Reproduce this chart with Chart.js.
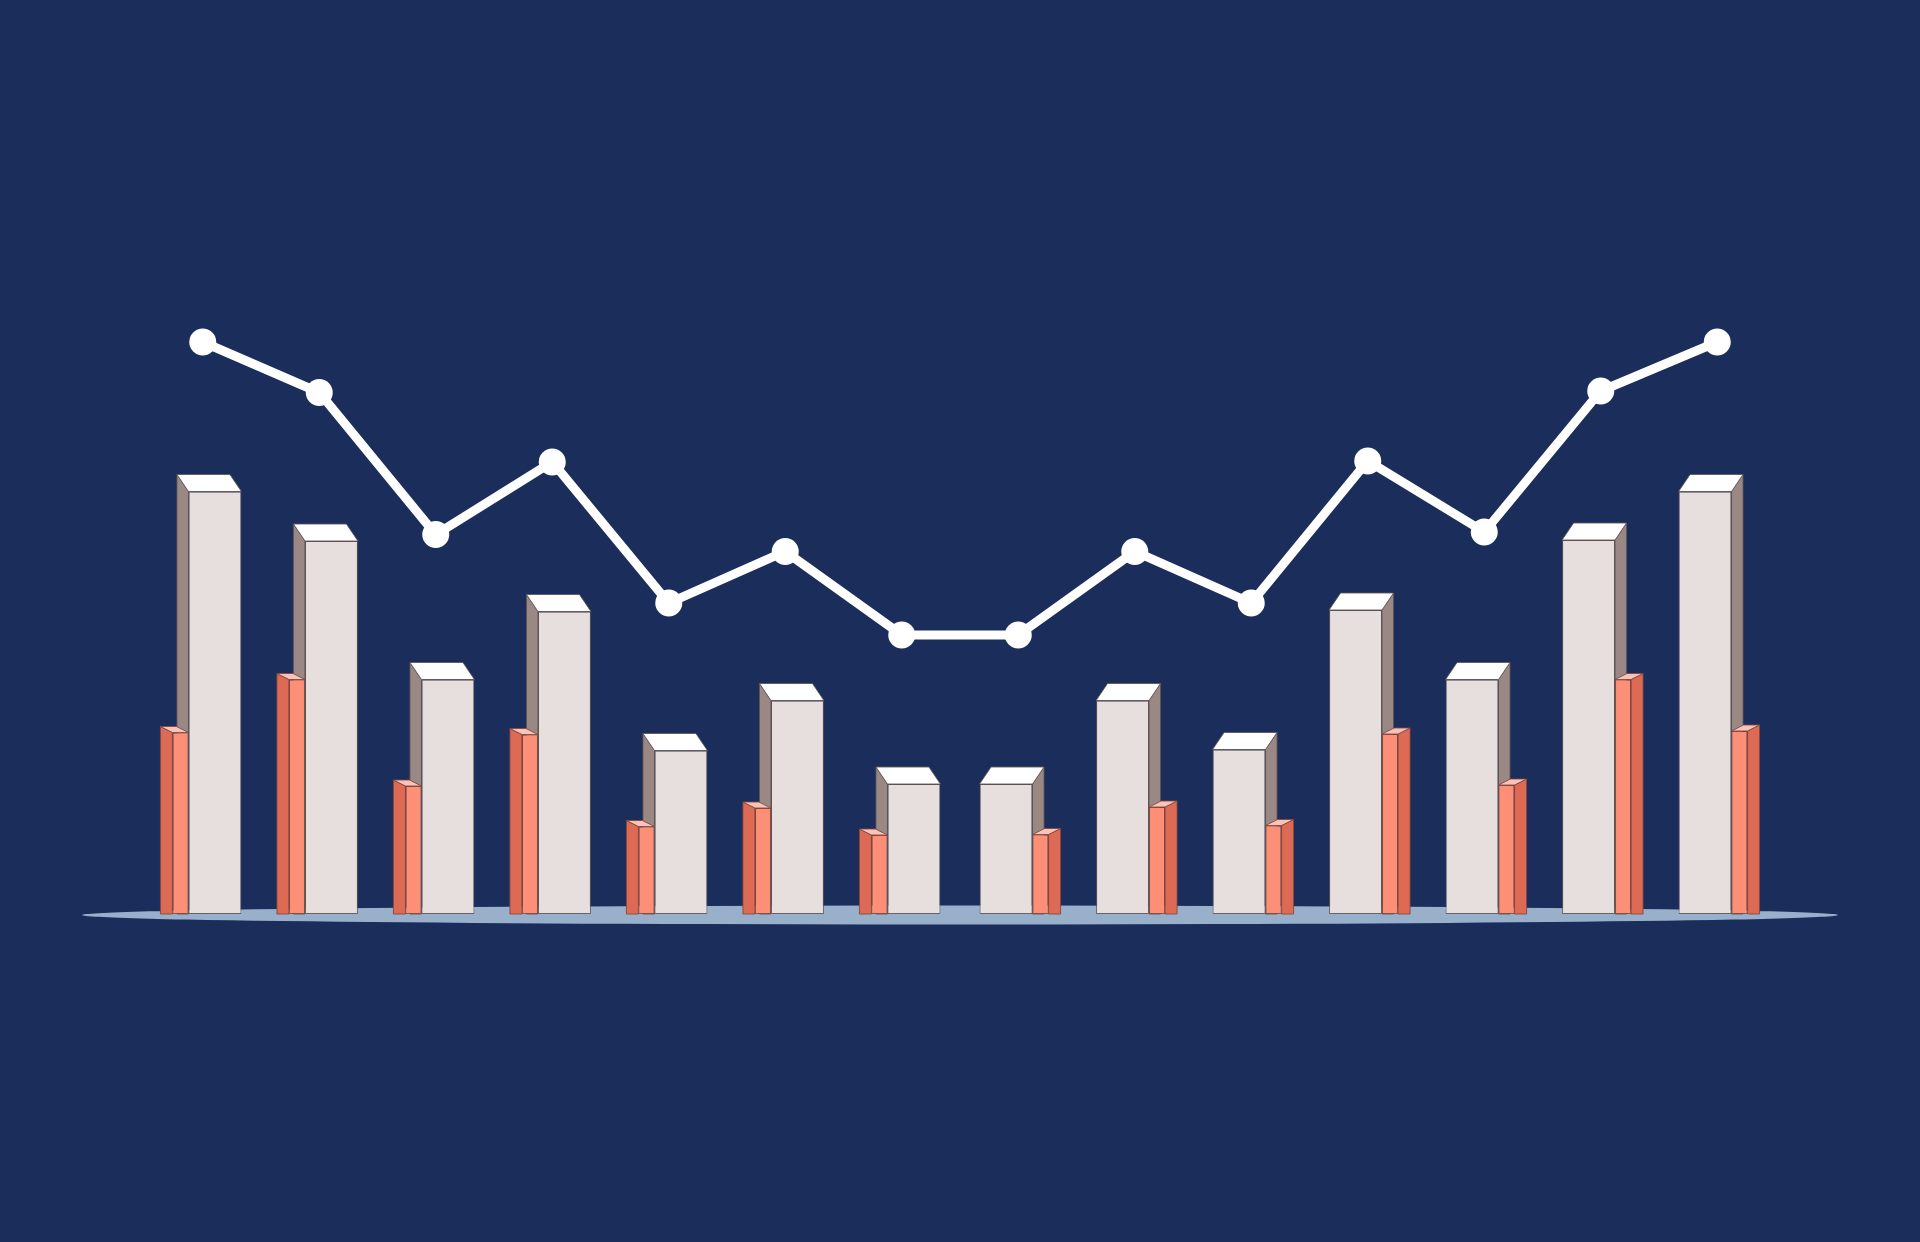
<!DOCTYPE html>
<html><head><meta charset="utf-8">
<script src="https://cdn.jsdelivr.net/npm/chart.js@4.4.1/dist/chart.umd.min.js"></script>
<style>
html,body{margin:0;padding:0;background:#1b2d5a;overflow:hidden}
#wrap{width:1920px;height:1242px;position:relative}
</style>
</head><body>
<div id="wrap"><canvas id="c"></canvas></div>
<script>
// ---- data ----
const categories = ['P1','P2','P3','P4','P5','P6','P7','P8','P9','P10','P11','P12','P13','P14'];
const tallValues   = [84.5, 74.6, 46.9, 60.5, 32.7, 42.7, 26.0, 26.0, 42.7, 32.9, 60.8, 46.9, 74.8, 84.5];
const accentValues = [36.3, 46.9, 25.6, 35.9, 17.5, 21.2, 15.8, 15.9, 21.4, 17.7, 36.0, 25.8, 46.9, 36.6];
const lineValues   = [114.4, 104.3, 75.9, 90.4, 62.2, 72.5, 55.8, 55.8, 72.5, 62.2, 90.6, 76.4, 104.6, 114.4];
const yMin = 0, yMax = 120;

// ---- styles ----
const BG = '#1b2d5a';
const TALL = {front:'#e7dfdd', top:'#ffffff', side:'#9a8884', edge:'rgba(95,85,82,0.85)', dx:11.5, dy:17};
const ACC  = {front:'#fe8f77', top:'#fbc3b8', side:'#dc6a55', edge:'rgba(130,70,60,0.85)', dx:12, dy:6};
const ELLIPSE = '#98b0ca';

const split = Math.ceil(categories.length / 2);
const accentLeft  = accentValues.map((v, i) => i < split ? v : null);
const accentRight = accentValues.map((v, i) => i >= split ? v : null);

function poly(ctx, pts, fill, edge) {
  ctx.beginPath();
  ctx.moveTo(pts[0][0], pts[0][1]);
  for (let k = 1; k < pts.length; k++) ctx.lineTo(pts[k][0], pts[k][1]);
  ctx.closePath();
  ctx.fillStyle = fill; ctx.fill();
  ctx.lineWidth = 1; ctx.strokeStyle = edge; ctx.stroke();
}

function draw3D(chart, dsIndex, st) {
  const ctx = chart.ctx;
  const meta = chart.getDatasetMeta(dsIndex);
  meta.data.forEach((el, i) => {
    const v = chart.data.datasets[dsIndex].data[i];
    if (v === null || v === undefined) return;
    const p = el.getProps(['x', 'y', 'base', 'width'], true);
    const L = p.x - p.width / 2, R = p.x + p.width / 2, T = p.y, B = p.base;
    const dir = i < split ? -1 : 1;
    const dx = st.dx * dir, dy = st.dy;
    const edgeX = dir < 0 ? L : R;
    // side face
    poly(ctx, [[edgeX, T], [edgeX + dx, T - dy], [edgeX + dx, B], [edgeX, B]], st.side, st.edge);
    // top face
    poly(ctx, [[L, T], [R, T], [R + dx, T - dy], [L + dx, T - dy]], st.top, st.edge);
  });
}

const threeD = {
  id: 'threeD',
  beforeDraw(chart) {
    const {ctx, width, height} = chart;
    ctx.save(); ctx.fillStyle = BG; ctx.fillRect(0, 0, width, height); ctx.restore();
  },
  beforeDatasetsDraw(chart) {
    const ctx = chart.ctx, xs = chart.scales.x, ys = chart.scales.y;
    const step = xs.getPixelForValue(1) - xs.getPixelForValue(0);
    const cx = (xs.left + xs.right) / 2;
    const rx = (xs.right - xs.left) / 2 + 0.535 * step;
    const cy = ys.getPixelForValue(0) + 1;
    ctx.save();
    ctx.beginPath();
    ctx.ellipse(cx, cy, rx, 9.5, 0, 0, Math.PI * 2);
    ctx.fillStyle = ELLIPSE; ctx.fill();
    draw3D(chart, 2, TALL);
    ctx.restore();
  },
  afterDatasetsDraw(chart) {
    const ctx = chart.ctx;
    ctx.save();
    draw3D(chart, 1, ACC);
    draw3D(chart, 3, ACC);
    ctx.restore();
  }
};

const stepPx = 116.5;
const cpT = 0.419, bpT = 2.17;
const cpA = 0.766, bpA = 0.359;

new Chart(document.getElementById('c'), {
  data: {
    labels: categories,
    datasets: [
      {type:'line', data: lineValues, borderColor:'#ffffff', borderWidth:9, tension:0,
       pointRadius:13.5, pointBackgroundColor:'#ffffff', pointBorderWidth:0, pointHoverRadius:13.5,
       clip:false, yAxisID:'y'},
      {type:'bar', data: accentLeft, stack:'a', backgroundColor: ACC.front, borderColor: ACC.edge,
       borderWidth:1, borderSkipped:false, categoryPercentage: cpA, barPercentage: bpA, skipNull:true},
      {type:'bar', data: tallValues, stack:'b', backgroundColor: TALL.front, borderColor: TALL.edge,
       borderWidth:1, borderSkipped:false, categoryPercentage: cpT, barPercentage: bpT, skipNull:true},
      {type:'bar', data: accentRight, stack:'c', backgroundColor: ACC.front, borderColor: ACC.edge,
       borderWidth:1, borderSkipped:false, categoryPercentage: cpA, barPercentage: bpA, skipNull:true}
    ]
  },
  options: {
    responsive: true, maintainAspectRatio: false, animation: false, devicePixelRatio: 1,
    layout: {padding: {left: 144.5, right: 144.5, top: 314, bottom: 328}},
    plugins: {legend: {display: false}, tooltip: {enabled: false}},
    scales: {
      x: {type:'category', display:false, offset:true, grid:{display:false}},
      y: {display:false, min: yMin, max: yMax, grid:{display:false}}
    }
  },
  plugins: [threeD]
});
</script>
</body></html>
